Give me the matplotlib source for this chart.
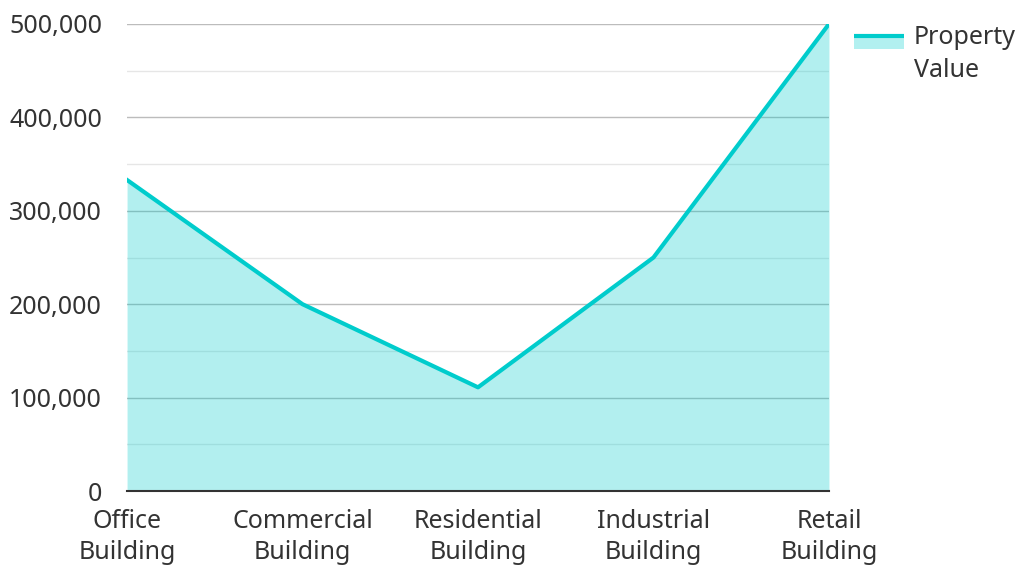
import matplotlib.pyplot as plt
from matplotlib.patches import Rectangle
from matplotlib.lines import Line2D
from matplotlib.ticker import FuncFormatter, MultipleLocator

plt.rcParams['font.family'] = ['Noto Sans', 'DejaVu Sans']

# Data
categories = ["Office\nBuilding", "Commercial\nBuilding", "Residential\nBuilding",
              "Industrial\nBuilding", "Retail\nBuilding"]
property_value = [333000, 200000, 111000, 250000, 500000]

line_color = "#00cccc"
fill_color = "#b2f0f0"
text_color = "#333333"


class TopLineHandler:
    # legend key: light fill box with the line along its top edge,
    # lifted to sit beside the first line of a two-line label
    def legend_artist(self, legend, orig_handle, fontsize, handlebox):
        x0, y0 = handlebox.xdescent, handlebox.ydescent
        w, h = handlebox.width, handlebox.height
        y0 = y0 + fontsize * 0.62
        rect = Rectangle((x0, y0), w, h, facecolor=fill_color, edgecolor="none",
                         transform=handlebox.get_transform())
        ln = Line2D([x0, x0 + w], [y0 + h * 0.82, y0 + h * 0.82], color=line_color,
                    lw=3, solid_capstyle="butt", transform=handlebox.get_transform())
        handlebox.add_artist(rect)
        handlebox.add_artist(ln)
        return rect


fig = plt.figure(figsize=(10.18, 5.66), dpi=100)
ax = fig.add_axes([0.1248, 0.1325, 0.6895, 0.8251])

x = list(range(len(categories)))
# translucent fill so the grid shows through, as in the reference
ax.fill_between(x, property_value, 0, color=line_color, alpha=0.3, lw=0, zorder=2)
ax.plot(x, property_value, color=line_color, lw=3, zorder=3, solid_joinstyle="round")

ax.set_xlim(0, len(categories) - 1)
ax.set_ylim(0, 500000)
ax.yaxis.set_major_locator(MultipleLocator(100000))
ax.yaxis.set_minor_locator(MultipleLocator(50000))
ax.yaxis.set_major_formatter(FuncFormatter(lambda v, p: f"{int(v):,}"))
ax.grid(axis="y", which="major", color="#bcbcbc", lw=1)
ax.grid(axis="y", which="minor", color="#e6e6e6", lw=1)
ax.set_axisbelow(True)

ax.set_xticks(x)
ax.set_xticklabels(categories)
ax.tick_params(axis="both", which="both", length=0, labelsize=18, colors=text_color)
ax.tick_params(axis="x", pad=13)
ax.tick_params(axis="y", pad=18)
for lbl in ax.get_xticklabels():
    lbl.set_linespacing(1.3)

for side in ["top", "right", "left"]:
    ax.spines[side].set_visible(False)
ax.spines["bottom"].set_color("#333333")
ax.spines["bottom"].set_linewidth(1.5)
ax.spines["bottom"].set_zorder(4)

leg = fig.legend([object()], ["Property\nValue"], handler_map={object: TopLineHandler()},
                 loc="upper left", bbox_to_anchor=(0.839, 0.956), frameon=False,
                 borderpad=0, borderaxespad=0,
                 fontsize=18, handlelength=2.0, handleheight=0.56, handletextpad=0.4,
                 labelcolor=text_color)
for t in leg.get_texts():
    t.set_linespacing(1.4)

fig.savefig("out.png", dpi=100)
